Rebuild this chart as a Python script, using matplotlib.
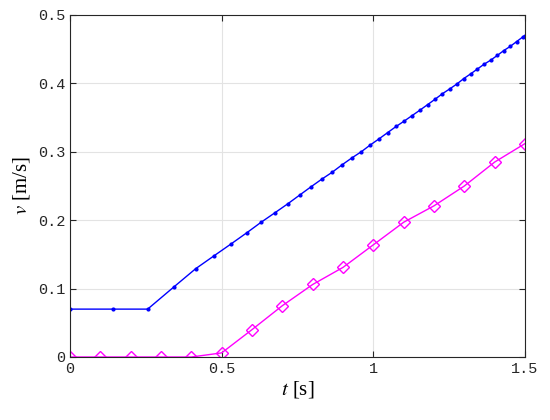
import matplotlib
matplotlib.use('Agg')
import matplotlib.pyplot as plt

plt.rcParams['mathtext.fontset'] = 'stix'

t_blue = [0, 0.143, 0.256, 0.344, 0.414, 0.475, 0.53, 0.584, 0.63, 0.676, 0.718, 0.758,
          0.795, 0.830, 0.864, 0.897, 0.929, 0.960, 0.990, 1.019, 1.047, 1.075, 1.102,
          1.128, 1.154, 1.179, 1.204, 1.228, 1.252, 1.275, 1.298, 1.321, 1.343, 1.365,
          1.387, 1.409, 1.430, 1.451, 1.472, 1.493, 1.5]
v_blue = [0.07, 0.07, 0.07, 0.103, 0.129, 0.148, 0.165, 0.182, 0.197, 0.211, 0.224, 0.237,
          0.249, 0.260, 0.270, 0.281, 0.291, 0.300, 0.310, 0.319, 0.328, 0.337, 0.345,
          0.353, 0.361, 0.369, 0.377, 0.385, 0.392, 0.399, 0.407, 0.414, 0.421, 0.428,
          0.434, 0.441, 0.448, 0.454, 0.461, 0.468, 0.470]

t_mag = [0, 0.1, 0.2, 0.3, 0.4, 0.5, 0.6, 0.7, 0.8, 0.9, 1.0, 1.1, 1.2, 1.3, 1.4, 1.5]
v_mag = [0, 0, 0, 0, 0, 0.006, 0.04, 0.075, 0.106, 0.131, 0.164, 0.197, 0.221, 0.25, 0.285, 0.312]

x_ticks = [0, 0.5, 1, 1.5]
x_labels = ['0', '0.5', '1', '1.5']
y_ticks = [0, 0.1, 0.2, 0.3, 0.4, 0.5]
y_labels = ['0', '0.1', '0.2', '0.3', '0.4', '0.5']

fig = plt.figure(figsize=(5.5, 4.2), dpi=100)
ax = fig.add_axes([70 / 550, 1 - 357 / 420, 455 / 550, 342 / 420])

ax.plot(t_blue, v_blue, color='#0000ff', lw=1, marker='o', ms=2)
ax.plot(t_mag, v_mag, color='#ff00ff', lw=1, marker='D', ms=6, mfc='none', mew=1)

ax.set_xlim(0, 1.5)
ax.set_ylim(0, 0.5)
ax.set_xticks(x_ticks)
ax.set_xticklabels(x_labels, family='Liberation Mono', fontsize=11)
ax.set_yticks(y_ticks)
ax.set_yticklabels(y_labels, family='Liberation Mono', fontsize=11)
ax.tick_params(direction='in', top=True, right=True, colors='#262626', length=4)
ax.grid(True, color='#e3e3e3', lw=0.8)
ax.set_axisbelow(True)
for s in ax.spines.values():
    s.set_color('#262626')

ax.set_xlabel(r'$t$ [s]', family='Liberation Serif', fontsize=15, labelpad=2)
ax.set_ylabel(r'$v$ [m/s]', family='Liberation Serif', fontsize=15, labelpad=4)

fig.savefig('out.png')
